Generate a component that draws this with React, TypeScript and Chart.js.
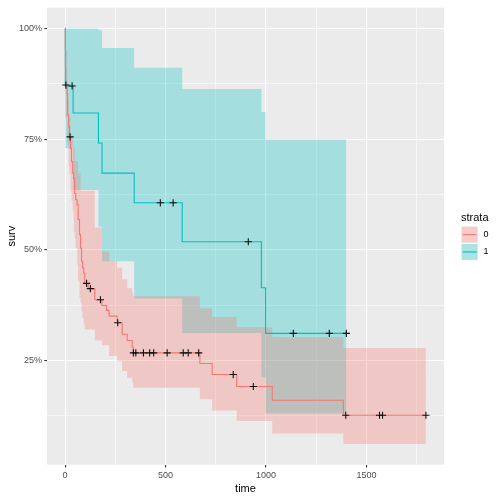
import React, { useEffect, useRef } from "react";
import { Chart, registerables } from "chart.js";

Chart.register(...registerables);

// strata 0 (red): step times, survival and confidence band
const time0 = [0, 1, 2, 3, 10, 13, 18, 22, 27, 32, 38, 43, 48, 53, 60, 65, 72, 77, 82, 87, 93, 98, 115, 148, 184, 206, 219, 259, 284, 309, 334, 339, 671, 732, 854, 1031, 1385, 1796];
const surv0 = [1, 0.955, 0.91, 0.872, 0.853, 0.805, 0.778, 0.755, 0.729, 0.699, 0.673, 0.661, 0.627, 0.613, 0.602, 0.568, 0.534, 0.504, 0.474, 0.459, 0.447, 0.424, 0.412, 0.387, 0.374, 0.363, 0.35, 0.335, 0.309, 0.295, 0.28, 0.267, 0.243, 0.218, 0.191, 0.16, 0.126, 0.126];
const upper0 = [1, 0.96, 0.96, 0.95, 0.88, 0.84, 0.8, 0.8, 0.755, 0.755, 0.73, 0.73, 0.7, 0.7, 0.7, 0.673, 0.673, 0.633, 0.633, 0.633, 0.633, 0.633, 0.633, 0.55, 0.496, 0.496, 0.474, 0.459, 0.433, 0.413, 0.404, 0.395, 0.368, 0.348, 0.325, 0.302, 0.278, 0.278];
const lower0 = [1, 0.86, 0.83, 0.8, 0.755, 0.74, 0.688, 0.67, 0.632, 0.61, 0.587, 0.541, 0.525, 0.504, 0.466, 0.429, 0.391, 0.38, 0.361, 0.345, 0.331, 0.32, 0.32, 0.295, 0.284, 0.284, 0.26, 0.248, 0.226, 0.211, 0.2, 0.188, 0.162, 0.137, 0.113, 0.085, 0.061, 0.061];
const censTime0 = [4, 25, 107, 126, 176, 262, 340, 352, 390, 421, 441, 508, 588, 613, 665, 837, 937, 1397, 1565, 1580, 1796];
const censSurv0 = [0.872, 0.755, 0.424, 0.412, 0.387, 0.335, 0.267, 0.267, 0.267, 0.267, 0.267, 0.267, 0.267, 0.267, 0.267, 0.218, 0.191, 0.126, 0.126, 0.126, 0.126];

// strata 1 (cyan)
const time1 = [0, 1, 40, 166, 184, 344, 583, 977, 998, 1400];
const surv1 = [1, 0.87, 0.809, 0.741, 0.673, 0.606, 0.518, 0.414, 0.311, 0.311];
const upper1 = [1, 1, 1, 0.996, 0.956, 0.911, 0.863, 0.811, 0.749, 0.749];
const lower1 = [1, 0.729, 0.635, 0.552, 0.474, 0.39, 0.312, 0.212, 0.13, 0.13];
const censTime1 = [35, 474, 538, 912, 1136, 1315, 1400];
const censSurv1 = [0.87, 0.606, 0.606, 0.518, 0.311, 0.311, 0.311];

const strata = ["0", "1"];
const xTicks = [0, 250, 500, 750, 1000, 1250, 1500, 1750];
const xMajor = [0, 500, 1000, 1500];
const yTicks = [0.125, 0.25, 0.375, 0.5, 0.625, 0.75, 0.875, 1];
const yMajor = [0.25, 0.5, 0.75, 1];

const colors = ["#F8766D", "#00BFC4"];
const bands = ["rgba(248,118,109,0.3)", "rgba(0,191,196,0.3)"];
const family = '"Liberation Sans", Arial, sans-serif';

const pts = (xs: number[], ys: number[]) => xs.map((x, i) => ({ x, y: ys[i] }));

// step function written out as corners (value holds until the next time)
const stepPts = (xs: number[], ys: number[]) => {
  const out: { x: number; y: number }[] = [];
  xs.forEach((x, i) => {
    if (i > 0) out.push({ x, y: ys[i - 1] });
    out.push({ x, y: ys[i] });
  });
  return out;
};

const bandLine = (xs: number[], ys: number[], fill: any, bg: string) => ({
  type: "line" as const,
  data: stepPts(xs, ys),
  borderColor: "rgba(0,0,0,0)",
  borderWidth: 0,
  pointRadius: 0,
  tension: 0,
  fill,
  backgroundColor: bg,
  order: 3,
});

const survLine = (xs: number[], ys: number[], color: string) => ({
  type: "line" as const,
  data: pts(xs, ys),
  stepped: true,
  borderColor: color,
  borderWidth: 1.1,
  pointRadius: 0,
  fill: false,
  order: 2,
});

const censors = (xs: number[], ys: number[]) => ({
  type: "scatter" as const,
  data: pts(xs, ys),
  pointStyle: "cross",
  pointRadius: 3.6,
  borderColor: "#111111",
  backgroundColor: "#111111",
  borderWidth: 1.1,
  order: 1,
});

const panelBg = {
  id: "panelBg",
  beforeDraw(chart: any) {
    const { ctx, chartArea: a } = chart;
    ctx.save();
    ctx.fillStyle = "#FFFFFF";
    ctx.fillRect(0, 0, chart.width, chart.height);
    ctx.fillStyle = "#EBEBEB";
    ctx.fillRect(a.left, a.top, a.right - a.left, a.bottom - a.top);
    ctx.restore();
  },
};

const strataLegend = {
  id: "strataLegend",
  afterDraw(chart: any) {
    const ctx = chart.ctx;
    ctx.save();
    ctx.textBaseline = "middle";
    ctx.textAlign = "left";
    ctx.fillStyle = "#000000";
    ctx.font = `11px ${family}`;
    ctx.fillText("strata", 461, 217.5);
    const size = 17.3;
    strata.forEach((s, i) => {
      const top = 226 + i * size;
      ctx.fillStyle = "#F7F7F7";
      ctx.fillRect(461, top, size, size);
      ctx.fillStyle = "#F2F2F2";
      ctx.fillRect(461.7, top + 0.7, size - 1.4, size - 1.4);
      ctx.fillStyle = bands[i];
      ctx.fillRect(461.7, top + 0.7, size - 1.4, size - 1.4);
      ctx.strokeStyle = colors[i];
      ctx.lineWidth = 1.1;
      ctx.beginPath();
      ctx.moveTo(462.7, top + size / 2);
      ctx.lineTo(476.6, top + size / 2);
      ctx.stroke();
      ctx.fillStyle = "#000000";
      ctx.font = `9px ${family}`;
      ctx.fillText(s, 483.5, top + size / 2);
    });
    ctx.restore();
  },
};

const KaplanMeierChart = () => {
  const chartRef = useRef<HTMLCanvasElement | null>(null);

  useEffect(() => {
    if (!chartRef.current) return;

    const myChart = new Chart(chartRef.current, {
      type: "line",
      data: {
        datasets: [
          bandLine(time0, lower0, false, "rgba(0,0,0,0)"),
          bandLine(time0, upper0, "-1", bands[0]),
          bandLine(time1, lower1, false, "rgba(0,0,0,0)"),
          bandLine(time1, upper1, "-1", bands[1]),
          survLine(time0, surv0, colors[0]),
          survLine(time1, surv1, colors[1]),
          censors(censTime0, censSurv0),
          censors(censTime1, censSurv1),
        ] as any,
      },
      options: {
        animation: false,
        responsive: false,
        maintainAspectRatio: false,
        events: [],
        layout: { padding: { top: 5.4, right: 56, left: 0, bottom: 0 } },
        plugins: {
          legend: { display: false },
          tooltip: { enabled: false },
        },
        scales: {
          x: {
            type: "linear",
            min: -90,
            max: 1886,
            afterBuildTicks: (s: any) => {
              s.ticks = xTicks.map((v) => ({ value: v }));
            },
            afterFit: (s: any) => {
              s.height = 35.3;
            },
            border: { display: false },
            grid: {
              color: "#FFFFFF",
              lineWidth: (c: any) => (xMajor.includes(c.tick?.value) ? 1.1 : 0.55),
              drawTicks: true,
              tickLength: 2.7,
              tickWidth: 1.1,
              tickColor: (c: any) => (xMajor.includes(c.tick?.value) ? "#333333" : "rgba(0,0,0,0)"),
            },
            ticks: {
              autoSkip: false,
              maxRotation: 0,
              padding: 3,
              color: "#4D4D4D",
              font: { family, size: 9 },
              callback: (v: any) => (xMajor.includes(v) ? String(v) : ""),
            },
            title: {
              display: true,
              text: "time",
              color: "#000000",
              font: { family, size: 11 },
              padding: { top: 0, bottom: 4.4 },
            },
          },
          y: {
            type: "linear",
            min: 0.0143,
            max: 1.047,
            afterBuildTicks: (s: any) => {
              s.ticks = yTicks.map((v) => ({ value: v }));
            },
            afterFit: (s: any) => {
              s.width = 47;
            },
            border: { display: false },
            grid: {
              color: "#FFFFFF",
              lineWidth: (c: any) => (yMajor.includes(c.tick?.value) ? 1.1 : 0.55),
              drawTicks: true,
              tickLength: 2.7,
              tickWidth: 1.1,
              tickColor: (c: any) => (yMajor.includes(c.tick?.value) ? "#333333" : "rgba(0,0,0,0)"),
            },
            ticks: {
              autoSkip: false,
              padding: 2.2,
              color: "#4D4D4D",
              font: { family, size: 9 },
              callback: (v: any) => (yMajor.includes(v) ? `${Math.round(v * 100)}%` : ""),
            },
            title: {
              display: true,
              text: "surv",
              color: "#000000",
              font: { family, size: 11 },
              padding: { top: 5.4, bottom: 0 },
            },
          },
        },
      },
      plugins: [panelBg, strataLegend],
    });

    return () => {
      myChart.destroy();
    };
  }, []);

  return (
    <div style={{ position: "absolute", left: 0, top: 0, width: 500, height: 500 }}>
      <canvas ref={chartRef} width={500} height={500}></canvas>
    </div>
  );
};

export default KaplanMeierChart;
